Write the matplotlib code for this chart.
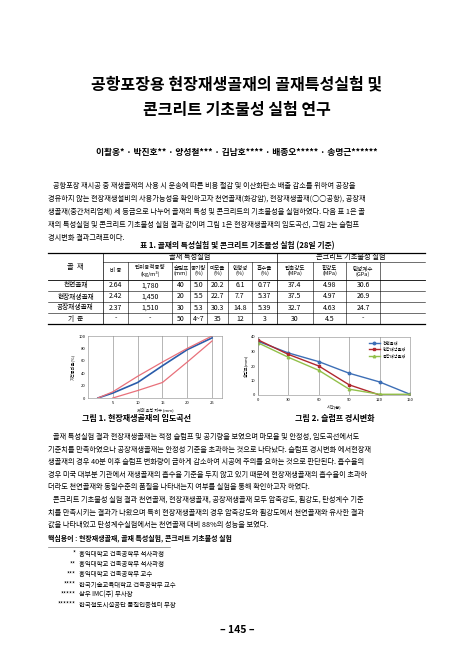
import matplotlib
matplotlib.use('Agg')
import matplotlib.pyplot as plt
from matplotlib.lines import Line2D

plt.rcParams['font.family'] = ['Noto Sans CJK KR', 'DejaVu Sans']

W, H = 474, 669

# table data
col_heads = ['비 중', '단위용적중량\n(kg/m³)', '슬럼프\n(mm)', '공기량\n(%)', '마모율\n(%)', '안정성\n(%)',
             '흡수율\n(%)', '압축강도\n(MPa)', '휨강도\n(MPa)', '탄성계수\n(GPa)']
row_names = ['천연골재', '현장재생골재', '공장재생골재', '기  준']
table_vals = [
    ['2.64', '1,780', '40', '5.0', '20.2', '6.1', '0.77', '37.4', '4.98', '30.6'],
    ['2.42', '1,450', '20', '5.5', '22.7', '7.7', '5.37', '37.5', '4.97', '26.9'],
    ['2.37', '1,510', '30', '5.3', '30.3', '14.8', '5.39', '32.7', '4.63', '24.7'],
    ['-', '-', '50', '4~7', '35', '12', '3', '30', '4.5', '-'],
]

# fig 1: gradation curve
sieve = [2, 5, 10, 15, 20, 25]
site_recycled = [0, 8, 25, 52, 78, 97]
upper_limit = [0, 10, 35, 58, 80, 100]
lower_sieve = [5, 10, 15, 20, 25]
lower_limit = [0, 12, 25, 58, 92]

# fig 2: slump over time
minutes = [0, 30, 60, 90, 120, 150]
natural = [37, 29, 23, 15, 9, 0.5]
site = [38, 28, 20, 7, 0, 0]
factory = [36, 26, 17, 4, 0.5, 0.5]

fig = plt.figure(figsize=(W / 100, H / 100), dpi=100)


def T(x, y, s, **kw):
    fig.text(x / W, 1 - y / H, s, **kw)


def hline(x0, x1, y, lw=0.6, color='black'):
    fig.add_artist(Line2D([x0 / W, x1 / W], [1 - y / H, 1 - y / H], lw=lw, color=color))


def vline(x, y0, y1, lw=0.5):
    fig.add_artist(Line2D([x / W, x / W], [1 - y0 / H, 1 - y1 / H], lw=lw, color='black'))


T(237, 84, '공항포장용 현장재생골재의 골재특성실험 및', ha='center', va='center', fontsize=11.5, weight='bold')
T(237, 110, '콘크리트 기초물성 실험 연구', ha='center', va='center', fontsize=11.5, weight='bold')
T(237, 152, '이활옹* · 박진호** · 양성철*** · 김남호**** · 배종오***** · 송명근******',
  ha='center', va='center', fontsize=6.3, weight='bold')

intro = ['   공항포장 재시공 중 재생골재의 사용 시 운송에 따른 비용 절감 및 이산화탄소 배출 감소를 위하여 공장을',
         '경유하지 않는 현장재생설비의 사용가능성을 확인하고자 천연골재(화강암), 현장재생골재(○○공항), 공장재',
         '생골재(중간처리업체) 세 등급으로 나누어 골재의 특성 및 콘크리트의 기초물성을 실험하였다. 다음 표 1은 골',
         '재의 특성실험 및 콘크리트 기초물성 실험 결과 값이며 그림 1은 현장재생골재의 입도곡선, 그림 2는 슬럼프',
         '경시변화 결과그래프이다.']
for i, s in enumerate(intro):
    T(48, 186 + i * 13, s, va='center', fontsize=5.2)

T(237, 246, '표 1. 골재의 특성실험 및 콘크리트 기초물성 실험 (28일 기준)', ha='center', va='center',
  fontsize=5.6, weight='bold')

# table grid
bx = [48, 103, 128, 172, 190, 207, 228, 252, 277, 313, 346, 380, 425]
hy0, hy1, hy2 = 253, 262, 280
row_h = 11
bottom = hy2 + row_h * 4
hline(bx[0], bx[-1], hy0, lw=0.9)
hline(bx[1], bx[-1], hy1, lw=0.4)
hline(bx[0], bx[-1], hy2, lw=0.6)
for r in range(1, 4):
    hline(bx[0], bx[-1], hy2 + r * row_h, lw=0.4)
hline(bx[0], bx[-1], bottom, lw=0.9)
vline(bx[1], hy0, bottom)
vline(bx[8], hy0, bottom)
for i in range(2, 12):
    if i != 8:
        vline(bx[i], hy1, bottom, lw=0.4)
T((bx[0] + bx[1]) / 2, (hy0 + hy2) / 2, '골  재', ha='center', va='center', fontsize=5.2)
T((bx[1] + bx[8]) / 2, (hy0 + hy1) / 2, '골재 특성실험', ha='center', va='center', fontsize=5.2)
T((bx[8] + bx[-1]) / 2, (hy0 + hy1) / 2, '콘크리트 기초물성 실험', ha='center', va='center', fontsize=5.2)
for j, h in enumerate(col_heads):
    T((bx[j + 1] + bx[j + 2]) / 2, (hy1 + hy2) / 2, h, ha='center', va='center', fontsize=4.0,
      linespacing=1.1)
for r, name in enumerate(row_names):
    yc = hy2 + r * row_h + row_h / 2
    T((bx[0] + bx[1]) / 2, yc, name, ha='center', va='center', fontsize=4.8)
    for j, v in enumerate(table_vals[r]):
        T((bx[j + 1] + bx[j + 2]) / 2, yc, v, ha='center', va='center', fontsize=5.0)


def add_ax(x0, y0, x1, y1):
    return fig.add_axes([x0 / W, 1 - y1 / H, (x1 - x0) / W, (y1 - y0) / H])


# figure 1
ax1 = add_ax(88, 336, 222, 398)
ax1.plot(sieve, site_recycled, color='#2a5caa', lw=1.2)
ax1.plot(sieve, upper_limit, color='#e8707a', lw=0.9)
ax1.plot(lower_sieve, lower_limit, color='#e8707a', lw=0.9)
ax1.set_xlim(0, 27)
ax1.set_ylim(0, 100)
ax1.set_xticks([5, 10, 15, 20, 25])
ax1.set_yticks(range(0, 101, 20))
ax1.grid(axis='x', color='#999999', lw=0.5)
ax1.tick_params(labelsize=3, length=0, pad=2)
ax1.set_xlabel('체의 호칭 치수 (mm)', fontsize=3, labelpad=2)
ax1.set_ylabel('가적통과율(%)', fontsize=3, labelpad=2)
for s in ax1.spines.values():
    s.set_linewidth(0.4)
    s.set_color('#888888')

# figure 2
ax2 = add_ax(258, 337, 410, 395)
ax2.plot(minutes, natural, color='#3d6fb6', marker='o', ms=1.8, lw=1.0, label='천연골재')
ax2.plot(minutes, site, color='#b0282e', marker='s', ms=1.8, lw=1.0, label='현장재생골재')
ax2.plot(minutes, factory, color='#92c04a', marker='^', ms=1.8, lw=1.0, label='공장재생골재')
ax2.set_xlim(0, 150)
ax2.set_ylim(0, 40)
ax2.set_xticks(minutes)
ax2.set_yticks(range(0, 41, 10))
ax2.grid(axis='x', color='#999999', lw=0.5)
ax2.tick_params(labelsize=3, length=0, pad=2)
ax2.set_xlabel('시간(분)', fontsize=3, labelpad=2)
ax2.set_ylabel('슬럼프(mm)', fontsize=3, labelpad=2)
ax2.legend(fontsize=3, loc='upper right', frameon=False, handlelength=2.5)
for s in ax2.spines.values():
    s.set_linewidth(0.4)
    s.set_color('#888888')

T(137, 418, '그림 1. 현장재생골재의 입도곡선', ha='center', va='center', fontsize=5.8, weight='bold')
T(335, 418, '그림 2. 슬럼프 경시변화', ha='center', va='center', fontsize=5.8, weight='bold')

body = ['   골재 특성실험 결과 현장재생골재는 적정 슬럼프 및 공기량을 보였으며 마모율 및 안정성, 입도곡선에서도',
        '기준치를 만족하였으나 공장재생골재는 안정성 기준을 초과하는 것으로 나타났다. 슬럼프 경시변화 에서현장재',
        '생골재의 경우 40분 이후 슬럼프 변화량이 급하게 감소하여 시공에 주의를 요하는 것으로 판단된다. 흡수율의',
        '경우 미국 대부분 기관에서 재생골재의 흡수율 기준을 두지 않고 있기 때문에 현장재생골재의 흡수율이 초과하',
        '더라도 천연골재와 동일수준의 품질을 나타내는지 여부를 실험을 통해 확인하고자 하였다.',
        '   콘크리트 기초물성 실험 결과 천연골재, 현장재생골재, 공장재생골재 모두 압축강도, 휨강도, 탄성계수 기준',
        '치를 만족시키는 결과가 나왔으며 특히 현장재생골재의 경우 압축강도와 휨강도에서 천연골재와 유사한 결과',
        '값을 나타내었고 탄성계수실험에서는 천연골재 대비 88%의 성능을 보였다.']
for i, s in enumerate(body):
    T(48, 437 + i * 12.6, s, va='center', fontsize=5.2)

T(48, 538, '핵심용어 : 현장재생골재, 골재 특성실험, 콘크리트 기초물성 실험', va='center', fontsize=5.0, weight='bold')
hline(48, 170, 547, lw=0.5, color='#777777')

notes = [('*', '홍익대학교 건축공학부 석사과정'), ('**', '홍익대학교 건축공학부 석사과정'),
         ('***', '홍익대학교 건축공학부 교수'), ('****', '한국기술교육대학교 건축공학부 교수'),
         ('*****', '삼우 IMC(주) 부사장'), ('******', '한국철도시설공단 품질인증센터 부장')]
for i, (star, s) in enumerate(notes):
    T(76, 554 + i * 10.2, star, ha='right', va='center', fontsize=4.6)
    T(79, 554 + i * 10.2, s, va='center', fontsize=4.6)

T(237, 630, '– 145 –', ha='center', va='center', fontsize=7.5, weight='bold')

fig.savefig('out.png', dpi=100)
